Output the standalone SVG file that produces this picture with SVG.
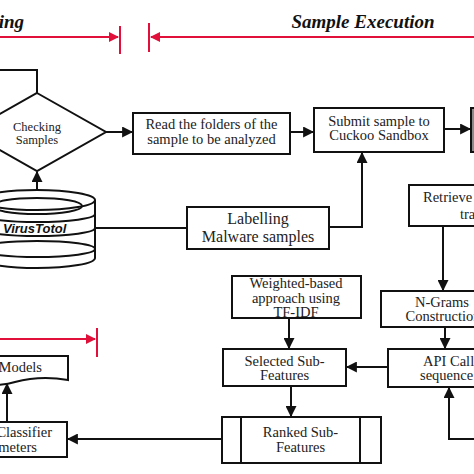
<svg xmlns="http://www.w3.org/2000/svg" width="474" height="474" viewBox="0 0 474 474">
<style>
.box{fill:#fff;stroke:#111;stroke-width:2}
.ln{fill:none;stroke:#111;stroke-width:2}
.red{fill:none;stroke:#e0103a;stroke-width:2}
.t{font-family:"Liberation Serif",serif;font-size:14.5px;fill:#222;text-anchor:middle}
.h{font-family:"Liberation Serif",serif;font-size:19px;font-weight:bold;font-style:italic;fill:#111}
</style>
<defs>
<marker id="a" viewBox="0 0 10 10" refX="9" refY="5" markerWidth="5.5" markerHeight="5.5" orient="auto"><path d="M0 0L10 5L0 10z" fill="#111"/></marker>
<marker id="r" viewBox="0 0 10 10" refX="9" refY="5" markerWidth="5" markerHeight="5" orient="auto"><path d="M0 0L10 5L0 10z" fill="#e0103a"/></marker>
</defs>
<g id="phase-headers">
<text class="h" x="24" y="28" text-anchor="end">ing</text>
<text class="h" x="363" y="28" text-anchor="middle">Sample Execution</text>
<path class="red" d="M0 37H118" marker-end="url(#r)"/>
<path class="red" d="M120 26V54"/>
<path class="red" d="M149 23V52"/>
<path class="red" d="M474 37H151" marker-end="url(#r)"/>
<path class="red" d="M0 339H95" marker-end="url(#r)"/>
<path class="red" d="M97 328V357"/>
</g>
<g id="connectors">
<path class="ln" d="M37 93V70H-5"/>
<path class="ln" d="M37 190V172" marker-end="url(#a)"/>
<path class="ln" d="M106 132H132" marker-end="url(#a)"/>
<path class="ln" d="M290 132H313" marker-end="url(#a)"/>
<path class="ln" d="M444 129H470" marker-end="url(#a)"/>
<path class="ln" d="M95 228H187"/>
<path class="ln" d="M329 227H362V153" marker-end="url(#a)"/>
<path class="ln" d="M443 226V290" marker-end="url(#a)"/>
<path class="ln" d="M445 327V348" marker-end="url(#a)"/>
<path class="ln" d="M388 367H347" marker-end="url(#a)"/>
<path class="ln" d="M289 318V348" marker-end="url(#a)"/>
<path class="ln" d="M291 386V416" marker-end="url(#a)"/>
<path class="ln" d="M480 439H449V388" marker-end="url(#a)"/>
<path class="ln" d="M222 439H68" marker-end="url(#a)"/>
<path class="ln" d="M7 422V384" marker-end="url(#a)"/>
</g>
<g id="checking">
<path class="box" d="M37 93L106 132L37 171L-32 132Z"/>
<text class="t" x="37" y="131" style="font-size:12.5px">Checking</text>
<text class="t" x="37" y="144" style="font-size:12.5px">Samples</text>
</g>
<g id="virustotal">
<path class="box" d="M-21 200V258A58 10 0 0 0 95 258V200"/>
<ellipse class="box" cx="37" cy="200" rx="58" ry="10"/>
<ellipse class="ln" cx="37" cy="206" rx="45" ry="8"/>
<path class="ln" d="M-21 214A58 8 0 0 0 95 214"/>
<path class="ln" d="M-21 228A58 8 0 0 0 95 228"/>
<ellipse class="ln" cx="37" cy="249" rx="58" ry="8"/>
<text x="3" y="233" style="font-family:'Liberation Sans',sans-serif;font-size:13px;font-weight:bold;font-style:italic;fill:#111">VirusTotol</text>
</g>
<g id="read">
<rect class="box" x="133" y="113" width="157" height="41"/>
<text class="t" x="211.5" y="129">Read the folders of the</text>
<text class="t" x="211.5" y="144">sample to be analyzed</text>
</g>
<g id="submit">
<rect class="box" x="314" y="108" width="130" height="44"/>
<text class="t" x="379" y="126">Submit sample to</text>
<text class="t" x="379" y="140">Cuckoo Sandbox</text>
</g>
<g id="gray-box">
<rect x="471" y="108" width="12" height="44" fill="#8a8a8a" stroke="#111" stroke-width="2"/>
</g>
<g id="labelling">
<rect class="box" x="187" y="207" width="142" height="42"/>
<text class="t" x="258" y="224" style="font-size:16px">Labelling</text>
<text class="t" x="258" y="242" style="font-size:16px">Malware samples</text>
</g>
<g id="retrieve">
<rect class="box" x="409" y="185" width="75" height="41"/>
<text class="t" x="423" y="202" style="text-anchor:start">Retrieve</text>
<text class="t" x="460" y="219" style="text-anchor:start">tra</text>
</g>
<g id="ngrams">
<rect class="box" x="381" y="291" width="103" height="36"/>
<text class="t" x="442" y="307">N-Grams</text>
<text class="t" x="443" y="321">Construction</text>
</g>
<g id="apicall">
<rect class="box" x="388" y="349" width="96" height="38"/>
<text class="t" x="423" y="366" style="text-anchor:start">API Call</text>
<text class="t" x="420" y="380" style="text-anchor:start">sequence</text>
</g>
<g id="weighted">
<rect class="box" x="232" y="276" width="129" height="42"/>
<text class="t" x="296" y="288">Weighted-based</text>
<text class="t" x="296" y="303">approach using</text>
<text class="t" x="296" y="317">TF-IDF</text>
</g>
<g id="selected">
<rect class="box" x="223" y="349" width="123" height="37"/>
<text class="t" x="284.5" y="366">Selected Sub-</text>
<text class="t" x="284.5" y="380">Features</text>
</g>
<g id="ranked">
<rect class="box" x="222" y="417" width="159" height="46"/>
<path class="ln" d="M241 417V463M360 417V463"/>
<text class="t" x="300.5" y="437">Ranked Sub-</text>
<text class="t" x="300.5" y="452">Features</text>
</g>
<g id="classifier">
<rect class="box" x="-40" y="422" width="107" height="35"/>
<text class="t" x="52" y="437" style="text-anchor:end">Classifier</text>
<text class="t" x="37" y="452" style="text-anchor:end">meters</text>
</g>
<g id="models">
<path class="box" d="M-20 356H68V380C45 376 30 378 15 382C5 385 -10 386 -20 384Z"/>
<text class="t" x="42" y="372" style="text-anchor:end">Models</text>
</g>
</svg>
